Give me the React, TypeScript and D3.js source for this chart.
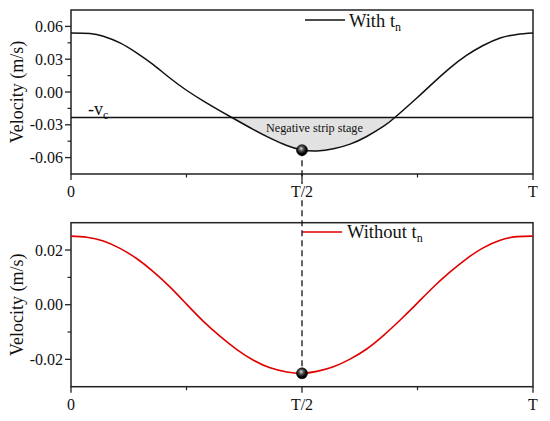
import React from "react";
import * as d3 from "d3";

// ---- data ----
const withTnT = [0, 0.041, 0.07, 0.106, 0.142, 0.178, 0.214, 0.25, 0.286, 0.318, 0.348, 0.395, 0.431, 0.467, 0.5, 0.532, 0.568, 0.604, 0.64, 0.676, 0.701, 0.748, 0.784, 0.82, 0.856, 0.892, 0.929, 0.965, 1.0];
const withTnV = [0.054, 0.0535, 0.051, 0.0449, 0.0358, 0.025, 0.0128, 0.0016, -0.0081, -0.0161, -0.0233, -0.0344, -0.0422, -0.0489, -0.053, -0.0539, -0.052, -0.0477, -0.0407, -0.0315, -0.0233, -0.0057, 0.0083, 0.0218, 0.0334, 0.0425, 0.0494, 0.0527, 0.0539];

const withoutTnT = [0, 0.034, 0.07, 0.106, 0.142, 0.178, 0.214, 0.25, 0.286, 0.323, 0.359, 0.395, 0.431, 0.467, 0.5, 0.532, 0.568, 0.604, 0.64, 0.676, 0.712, 0.748, 0.784, 0.82, 0.856, 0.892, 0.929, 0.965, 1.0];
const withoutTnV = [0.0251, 0.0247, 0.0233, 0.0206, 0.0169, 0.0121, 0.0065, 0.0002, -0.006, -0.0116, -0.0164, -0.0203, -0.0231, -0.0246, -0.0251, -0.0244, -0.0227, -0.0199, -0.0162, -0.0113, -0.0057, 0.0003, 0.0064, 0.0119, 0.0168, 0.0208, 0.0236, 0.0249, 0.0251];

const vc = -0.0233;
const markerT = 0.5;
const topMarkerV = -0.0532;
const botMarkerV = -0.0251;

const topMajorTicks = [0.06, 0.03, 0, -0.03, -0.06];
const topMinorTicks = [0.045, 0.015, -0.015, -0.045];
const botMajorTicks = [0.02, 0, -0.02];
const botMinorTicks = [0.01, -0.01];
const xMajorTicks = [0, 0.5, 1];
const xMajorLabels = ["0", "T/2", "T"];
const xMinorTicks = [0.25, 0.75];

const FONT = "'Liberation Serif', 'Times New Roman', serif";

const W = 550, H = 421;
const L = 71, R = 533;
const topY0 = 10, topY1 = 174;
const botY0 = 222.7, botY1 = 386.7;

export default function App() {
  const x = d3.scaleLinear().domain([0, 1]).range([L, R]);
  const yTop = d3.scaleLinear().domain([-0.075, 0.075]).range([topY1, topY0]);
  const yBot = d3.scaleLinear().domain([-0.03, 0.03]).range([botY1, botY0]);

  const topData = withTnT.map((t, i) => ({ t, v: withTnV[i] }));
  const botData = withoutTnT.map((t, i) => ({ t, v: withoutTnV[i] }));

  const curve = d3.curveNatural;
  const topLine = d3.line<any>().x(d => x(d.t)).y(d => yTop(d.v)).curve(curve)(topData) || "";
  const botLine = d3.line<any>().x(d => x(d.t)).y(d => yBot(d.v)).curve(curve)(botData) || "";
  const fillArea = d3.area<any>().x(d => x(d.t)).y0(yTop(vc)).y1(d => yTop(d.v)).curve(curve)(topData) || "";

  const axisStroke = "#222";

  const yAxis = (scale: any, major: number[], minor: number[], y0: number, y1: number, fmt: (v: number) => string) => (
    <g>
      <rect x={L} y={y0} width={R - L} height={y1 - y0} fill="none" stroke={axisStroke} strokeWidth={1.5} />
      {major.map(v => (
        <g key={"M" + v}>
          <line x1={L - 6} x2={L} y1={scale(v)} y2={scale(v)} stroke={axisStroke} strokeWidth={1.3} />
          <text x={63} y={scale(v)} dy="0.35em" textAnchor="end" fontSize={16} fontFamily={FONT} fill="#111">{fmt(v)}</text>
        </g>
      ))}
      {minor.map(v => (
        <line key={"m" + v} x1={L - 3.5} x2={L} y1={scale(v)} y2={scale(v)} stroke={axisStroke} strokeWidth={1.2} />
      ))}
      {xMajorTicks.map(t => (
        <line key={"xM" + t} x1={x(t)} x2={x(t)} y1={y1} y2={y1 + 6} stroke={axisStroke} strokeWidth={1.3} />
      ))}
      {xMinorTicks.map(t => (
        <line key={"xm" + t} x1={x(t)} x2={x(t)} y1={y1} y2={y1 + 3.5} stroke={axisStroke} strokeWidth={1.2} />
      ))}
      <text transform={`translate(23,${(y0 + y1) / 2}) rotate(-90)`} textAnchor="middle" fontSize={18} fontFamily={FONT} fill="#111">Velocity (m/s)</text>
    </g>
  );

  const fmt = (v: number) => (v === 0 ? "0.00" : d3.format(".2f")(v).replace("−", "-"));

  const ball = (cx: number, cy: number, key: string) => (
    <circle key={key} cx={cx} cy={cy} r={5.5} fill="url(#ballGrad)" stroke="#000" strokeWidth={0.6} />
  );

  return (
    <svg width={W} height={H} style={{ position: "absolute", left: 0, top: 0, background: "#fff" }}>
      <defs>
        <radialGradient id="ballGrad" cx="45%" cy="40%" r="60%" fx="42%" fy="35%">
          <stop offset="0%" stopColor="#ddd" />
          <stop offset="35%" stopColor="#555" />
          <stop offset="75%" stopColor="#000" />
          <stop offset="100%" stopColor="#000" />
        </radialGradient>
        <clipPath id="belowVc">
          <rect x={L} y={yTop(vc)} width={R - L} height={topY1 - yTop(vc)} />
        </clipPath>
      </defs>
      <rect x={0} y={0} width={W} height={H} fill="#fff" />

      {/* top panel */}
      <path d={fillArea} fill="#e2e2e2" clipPath="url(#belowVc)" />
      {yAxis(yTop, topMajorTicks, topMinorTicks, topY0, topY1, fmt)}
      <line x1={L} x2={R} y1={yTop(vc)} y2={yTop(vc)} stroke="#111" strokeWidth={1.5} />
      <path d={topLine} fill="none" stroke="#111" strokeWidth={1.5} />
      <text x={88} y={114.5} fontSize={18} fontFamily={FONT} fill="#111">-v<tspan fontSize={12} dy={4.5}>c</tspan></text>
      <text x={266} y={131.7} fontSize={12.2} fontFamily={FONT} fill="#111">Negative strip stage</text>
      <line x1={305} x2={345} y1={20} y2={20} stroke="#111" strokeWidth={1.5} />
      <text x={349} y={26.5} fontSize={18.5} fontFamily={FONT} fill="#111">With t<tspan fontSize={12} dy={4}>n</tspan></text>

      {/* bottom panel */}
      {yAxis(yBot, botMajorTicks, botMinorTicks, botY0, botY1, fmt)}
      <path d={botLine} fill="none" stroke="#e00000" strokeWidth={1.6} />
      <line x1={302} x2={342} y1={232} y2={232} stroke="#e00000" strokeWidth={1.5} />
      <text x={347} y={238} fontSize={18.5} fontFamily={FONT} fill="#111">Without t<tspan fontSize={12} dy={4}>n</tspan></text>

      {/* dashed connector */}
      <line x1={x(markerT)} x2={x(markerT)} y1={yTop(topMarkerV)} y2={yBot(botMarkerV)} stroke="#111" strokeWidth={1.3} strokeDasharray="6,4" />

      {/* x tick labels */}
      {[topY1, botY1].map((yb, k) => (
        <g key={"xl" + k}>
          {xMajorTicks.map((t, i) => (
            <g key={t}>
              {k === 0 && i === 1 && <rect x={x(t) - 12} y={yb + 10} width={24} height={14} fill="#fff" />}
              <text x={x(t)} y={yb + 23} textAnchor="middle" fontSize={16} fontFamily={FONT} fill="#111">{xMajorLabels[i]}</text>
            </g>
          ))}
        </g>
      ))}

      {ball(x(markerT), yTop(topMarkerV), "b1")}
      {ball(x(markerT), yBot(botMarkerV), "b2")}
    </svg>
  );
}
